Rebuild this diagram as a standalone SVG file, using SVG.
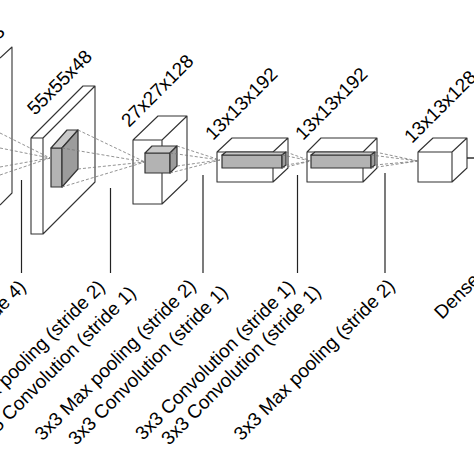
<svg xmlns="http://www.w3.org/2000/svg" width="474" height="474" viewBox="0 0 474 474">
<style>
.box{fill:none;stroke:#333;stroke-width:1.1;stroke-linejoin:round}
.k{stroke:#333;stroke-width:1.2;stroke-linejoin:round}
.kf{fill:#b3b3b3}
.kt{fill:#c9c9c9}
.ks{fill:#9c9c9c}
.d{stroke:#777;stroke-width:0.8;stroke-dasharray:3 2;fill:none}
.t{font-family:"Liberation Sans",Arial,sans-serif;font-size:19px;fill:#000}
.tick{stroke:#222;stroke-width:1.2}
</style>
<rect width="474" height="474" fill="#fff"/>
<g id="layer1">
<path class="box" d="M0,58 L12,47 V193 L0,205"/>
<text class="t" text-anchor="end" transform="translate(6,33) rotate(-45)">224x224x3</text>
</g>
<g id="layer2">
<path class="box" d="M31,138 H43 V234 H31 Z M31,138 L83,86 H95 L43,138 M95,86 V182 L43,234"/>
<rect class="k kf" x="51" y="148" width="11" height="39"/>
<path class="k kt" d="M51,148 L67,130 H78 L62,148 Z"/>
<path class="k ks" d="M62,148 L78,130 V169 L62,187 Z"/>
<text class="t" transform="translate(35,116) rotate(-45)">55x55x48</text>
</g>
<g id="layer3">
<path class="box" d="M133,140 H162 V204 H133 Z M133,140 L158,116 H187 L162,140 M187,116 V180 L162,204"/>
<rect class="k kf" x="145" y="153" width="25" height="20"/>
<path class="k kt" d="M145,153 L152,146 H177 L170,153 Z"/>
<path class="k ks" d="M170,153 L177,146 V166 L170,173 Z"/>
<text class="t" transform="translate(129,128) rotate(-45)">27x27x128</text>
</g>
<g id="layer4">
<path class="box" d="M217,152 H273 V182 H217 Z M217,152 L232,138 H288 L273,152 M288,138 V168 L273,182"/>
<rect class="k kf" x="222" y="155" width="60" height="13"/>
<path class="k kt" d="M222,155 L226,152 H286 L282,155 Z"/>
<path class="k ks" d="M282,155 L286,152 V165 L282,168 Z"/>
<text class="t" transform="translate(213,141) rotate(-45)">13x13x192</text>
</g>
<g id="layer5">
<path class="box" d="M307,152 H363 V182 H307 Z M307,152 L321,138 H377 L363,152 M377,138 V168 L363,182"/>
<rect class="k kf" x="311" y="155" width="60" height="13"/>
<path class="k kt" d="M311,155 L315,152 H375 L371,155 Z"/>
<path class="k ks" d="M371,155 L375,152 V165 L371,168 Z"/>
<text class="t" transform="translate(303,141) rotate(-45)">13x13x192</text>
</g>
<g id="layer6">
<path class="box" d="M418,152 H452 V182 H418 Z M418,152 L433,138 H467 L452,152 M467,138 V168 L452,182"/>
<text class="t" transform="translate(412,144) rotate(-45)">13x13x128</text>
</g>
<g id="connectors">
<path class="d" d="M0,133 L50,158 M0,148 L50,158 M0,167 L50,158 M0,175 L50,158"/>
<path class="d" d="M62,148 L145,162 M78,130 L145,162 M78,169 L145,162 M62,187 L145,162"/>
<path class="d" d="M170,153 L220,160 M177,146 L220,160 M177,166 L220,160 M170,173 L220,160"/>
<path class="d" d="M282,155 L311,161 M286,152 L311,161 M286,165 L311,161 M282,168 L311,161"/>
<path class="d" d="M371,155 L418,161 M375,152 L418,161 M375,165 L418,161 M371,168 L418,161"/>
<line x1="467" y1="158" x2="474" y2="158" stroke="#222" stroke-width="1.4"/>
<line class="tick" x1="21.5" y1="180" x2="21.5" y2="273"/>
<line class="tick" x1="110.5" y1="188" x2="110.5" y2="273"/>
<line class="tick" x1="203" y1="175" x2="203" y2="273"/>
<line class="tick" x1="297.5" y1="175" x2="297.5" y2="273"/>
<line class="tick" x1="385" y1="173" x2="385" y2="273"/>
</g>
<g id="labels">
<text class="t" text-anchor="end" transform="translate(27,288) rotate(-45)">11x11 Convolution (stride 4)</text>
<text class="t" text-anchor="end" transform="translate(106,288) rotate(-45)">3x3 Max pooling (stride 2)</text>
<text class="t" text-anchor="end" transform="translate(137,294) rotate(-45)">5x5 Convolution (stride 1)</text>
<text class="t" text-anchor="end" transform="translate(197,287) rotate(-45)">3x3 Max pooling (stride 2)</text>
<text class="t" text-anchor="end" transform="translate(229,293) rotate(-45)">3x3 Convolution (stride 1)</text>
<text class="t" text-anchor="end" transform="translate(296,288) rotate(-45)">3x3 Convolution (stride 1)</text>
<text class="t" text-anchor="end" transform="translate(322,293) rotate(-45)">3x3 Convolution (stride 1)</text>
<text class="t" text-anchor="end" transform="translate(396,287) rotate(-45)">3x3 Max pooling (stride 2)</text>
<text class="t" transform="translate(442,320) rotate(-45)">Dense</text>
</g>
</svg>
